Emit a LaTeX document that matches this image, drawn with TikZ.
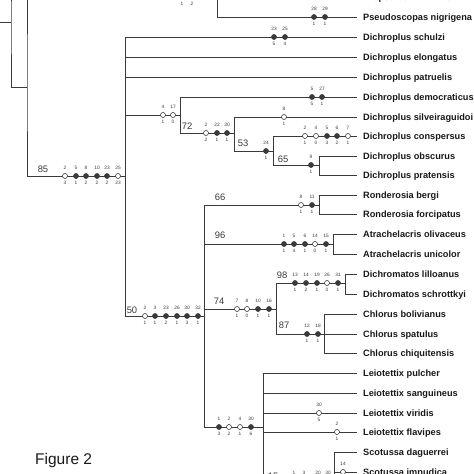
\documentclass[tikz,border=0pt]{standalone}
\usepackage{fontspec}
\setmainfont{Liberation Sans}
\definecolor{lc}{RGB}{58,58,58}
\definecolor{tc}{RGB}{25,25,25}
\newcounter{mkc}
% \mk{type}{x}{y}{above}{below}
\newcommand\mk[5]{\stepcounter{mkc}%
  \node[#1mark] (mk\themkc) at (#2,#3) {};%
  \node[lab] (mka\themkc) at (#2,#3-8) {#4};%
  \node[lab] (mkb\themkc) at (#2,#3+7) {#5};}
\begin{document}
\begin{tikzpicture}[x=1pt,y=-1pt,
  br/.style={draw=lc, line width=0.9pt},
  taxon/.style={anchor=west, inner xsep=6pt, inner ysep=0pt,
    font=\fontsize{9.2}{10}\selectfont\bfseries, text=tc,
    text height=6.6pt, text depth=0pt},
  clade/.style={font=\fontsize{9.4}{10}\selectfont, text=lc, inner sep=0pt},
  fmark/.style={circle, fill=lc, draw=lc, line width=0.6pt, minimum size=5pt, inner sep=0pt},
  omark/.style={circle, fill=white, draw=lc, line width=0.6pt, minimum size=5pt, inner sep=0pt},
  lab/.style={font=\fontsize{4.8}{5}\selectfont, text=lc, inner sep=0pt},
]
\useasboundingbox (0,0) rectangle (474,474);
\fill[white] (0,0) rectangle (474,474);
\clip (0,0) rectangle (474,474);

% taxa
\node[taxon] (prop) at (357,-2.6) {Propedies femoralis};
\node[taxon] (pnig) at (357,17) {Pseudoscopas nigrigena};
\node[taxon] (dsch) at (357,37) {Dichroplus schulzi};
\node[taxon] (delo) at (357,57) {Dichroplus elongatus};
\node[taxon] (dpat) at (357,77) {Dichroplus patruelis};
\node[taxon] (ddem) at (357,97) {Dichroplus democraticus};
\node[taxon] (dsil) at (357,117) {Dichroplus silveiraguidoi};
\node[taxon] (dcon) at (357,136) {Dichroplus conspersus};
\node[taxon] (dobs) at (357,156) {Dichroplus obscurus};
\node[taxon] (dpra) at (357,175) {Dichroplus pratensis};
\node[taxon] (rber) at (357,195) {Ronderosia bergi};
\node[taxon] (rfor) at (357,214) {Ronderosia forcipatus};
\node[taxon] (aoli) at (357,234) {Atrachelacris olivaceus};
\node[taxon] (auni) at (357,254) {Atrachelacris unicolor};
\node[taxon] (dlil) at (357,274) {Dichromatos lilloanus};
\node[taxon] (dsct) at (357,294) {Dichromatos schrottkyi};
\node[taxon] (cbol) at (357,314) {Chlorus bolivianus};
\node[taxon] (cspa) at (357,334) {Chlorus spatulus};
\node[taxon] (cchi) at (357,353) {Chlorus chiquitensis};
\node[taxon] (lpul) at (357,373) {Leiotettix pulcher};
\node[taxon] (lsan) at (357,393) {Leiotettix sanguineus};
\node[taxon] (lvir) at (357,413) {Leiotettix viridis};
\node[taxon] (lfla) at (357,432) {Leiotettix flavipes};
\node[taxon] (sdag) at (357,452) {Scotussa daguerrei};
\node[taxon] (simp) at (357,472) {Scotussa impudica};

% internal nodes
\coordinate (r0) at (-5,22);
\coordinate (n11) at (11,22);
\coordinate (n11top) at (11,-20);
\coordinate (n27) at (27,87);
\coordinate (n27top) at (27,-20);
\coordinate (p217) at (150,-3);
\coordinate (n217) at (217,-3);
\coordinate (n125) at (125,176);
\coordinate (n180) at (180,115);
\coordinate (n234) at (234,133);
\coordinate (n273) at (273,151);
\coordinate (n319a) at (319,165);
\coordinate (n204) at (204,316);
\coordinate (n319b) at (319,205);
\coordinate (n333) at (333,244);
\coordinate (n276) at (276,309);
\coordinate (n345) at (345,283);
\coordinate (n324) at (324,334);
\coordinate (n263) at (263,427);
\coordinate (n263b) at (263,500);
\coordinate (n334) at (334,481);

% branches
\draw[br] (r0) -- (n11);
\draw[br] (n11top) -- (n11) |- (n27);
\draw[br] (n27top) -- (n27) |- (n125);
\draw[br] (p217) -- (n217) |- (pnig.west);
\draw[br] (n217) |- (prop.west);
\draw[br] (n125) |- (dsch.west);
\draw[br] (n125) |- (delo.west);
\draw[br] (n125) |- (dpat.west);
\draw[br] (n125) |- (n180);
\draw[br] (n125) |- (n204);
\draw[br] (n180) |- (ddem.west);
\draw[br] (n180) |- (n234);
\draw[br] (n234) |- (dsil.west);
\draw[br] (n234) |- (n273);
\draw[br] (n273) |- (dcon.west);
\draw[br] (n273) |- (n319a);
\draw[br] (n319a) |- (dobs.west);
\draw[br] (n319a) |- (dpra.west);
\draw[br] (n204) |- (n319b);
\draw[br] (n204) |- (n333);
\draw[br] (n204) |- (n276);
\draw[br] (n204) |- (n263);
\draw[br] (n319b) |- (rber.west);
\draw[br] (n319b) |- (rfor.west);
\draw[br] (n333) |- (aoli.west);
\draw[br] (n333) |- (auni.west);
\draw[br] (n276) |- (n345);
\draw[br] (n276) |- (n324);
\draw[br] (n345) |- (dlil.west);
\draw[br] (n345) |- (dsct.west);
\draw[br] (n324) |- (cbol.west);
\draw[br] (n324) |- (cspa.west);
\draw[br] (n324) |- (cchi.west);
\draw[br] (n263) |- (lpul.west);
\draw[br] (n263) |- (lsan.west);
\draw[br] (n263) |- (lvir.west);
\draw[br] (n263) |- (lfla.west);
\draw[br] (n263) -- (n263b);
\draw[br] (n263) |- (n334);
\draw[br] (n334) |- (sdag.west);
\draw[br] (n334) |- (simp.west);

% clade support values
\node[clade] (c85) at (43,169) {85};
\node[clade] (c72) at (187,126) {72};
\node[clade] (c53) at (243,143) {53};
\node[clade] (c65) at (283,159) {65};
\node[clade] (c50) at (132,310) {50};
\node[clade] (c66) at (220,197) {66};
\node[clade] (c96) at (220,235) {96};
\node[clade] (c74) at (219,301) {74};
\node[clade] (c98) at (282,275) {98};
\node[clade] (c87) at (284,325) {87};
\node[clade] (c15) at (273,476.5) {15};

% character marks
\mk{f}{182}{-3}{}{1}
\mk{f}{192}{-3}{}{2}
\mk{f}{314}{17}{28}{1}
\mk{f}{325}{17}{29}{1}
\mk{f}{274}{37}{23}{5}
\mk{f}{285}{37}{25}{4}
\mk{f}{312}{97}{5}{5}
\mk{f}{322}{97}{27}{1}
\mk{o}{163}{115}{4}{1}
\mk{o}{173}{115}{17}{0}
\mk{o}{284}{117}{8}{1}
\mk{o}{206}{133}{2}{2}
\mk{f}{217}{133}{22}{1}
\mk{f}{227}{133}{30}{1}
\mk{f}{266}{151}{24}{1}
\mk{o}{305}{136}{2}{1}
\mk{o}{316}{136}{4}{0}
\mk{f}{327}{136}{5}{3}
\mk{f}{337}{136}{6}{2}
\mk{o}{348}{136}{7}{1}
\mk{f}{311}{165}{9}{1}
\mk{o}{65}{176}{2}{3}
\mk{f}{76}{176}{5}{1}
\mk{f}{86}{176}{8}{2}
\mk{f}{97}{176}{10}{2}
\mk{f}{107}{176}{23}{2}
\mk{o}{118}{176}{25}{23}
\mk{o}{301}{205}{8}{1}
\mk{f}{312}{205}{11}{1}
\mk{f}{284}{244}{1}{1}
\mk{f}{294}{244}{5}{4}
\mk{f}{305}{244}{6}{1}
\mk{o}{315}{244}{14}{0}
\mk{f}{326}{244}{15}{1}
\mk{f}{295}{283}{13}{1}
\mk{f}{306}{283}{14}{2}
\mk{f}{317}{283}{19}{1}
\mk{o}{327}{283}{26}{0}
\mk{f}{338}{283}{31}{1}
\mk{o}{237}{309}{7}{1}
\mk{o}{247}{309}{8}{0}
\mk{f}{258}{309}{10}{1}
\mk{f}{269}{309}{16}{1}
\mk{o}{145}{316}{2}{1}
\mk{f}{155}{316}{3}{1}
\mk{f}{166}{316}{23}{2}
\mk{f}{177}{316}{26}{1}
\mk{f}{187}{316}{30}{3}
\mk{f}{198}{316}{32}{1}
\mk{f}{307}{334}{12}{1}
\mk{f}{318}{334}{18}{1}
\mk{o}{319}{413}{30}{5}
\mk{f}{219}{427}{1}{3}
\mk{o}{229}{427}{2}{2}
\mk{o}{240}{427}{4}{1}
\mk{f}{251}{427}{30}{6}
\mk{o}{337}{432}{2}{1}
\mk{o}{343}{472}{14}{}
\mk{f}{294}{481}{1}{}
\mk{f}{304}{481}{3}{}
\mk{f}{318}{481}{20}{}
\mk{f}{328}{481}{30}{}

\node[anchor=west, font=\fontsize{15.5}{18}\selectfont, text=tc, inner sep=0pt] (fig) at (35,460) {Figure 2};
\end{tikzpicture}
\end{document}
